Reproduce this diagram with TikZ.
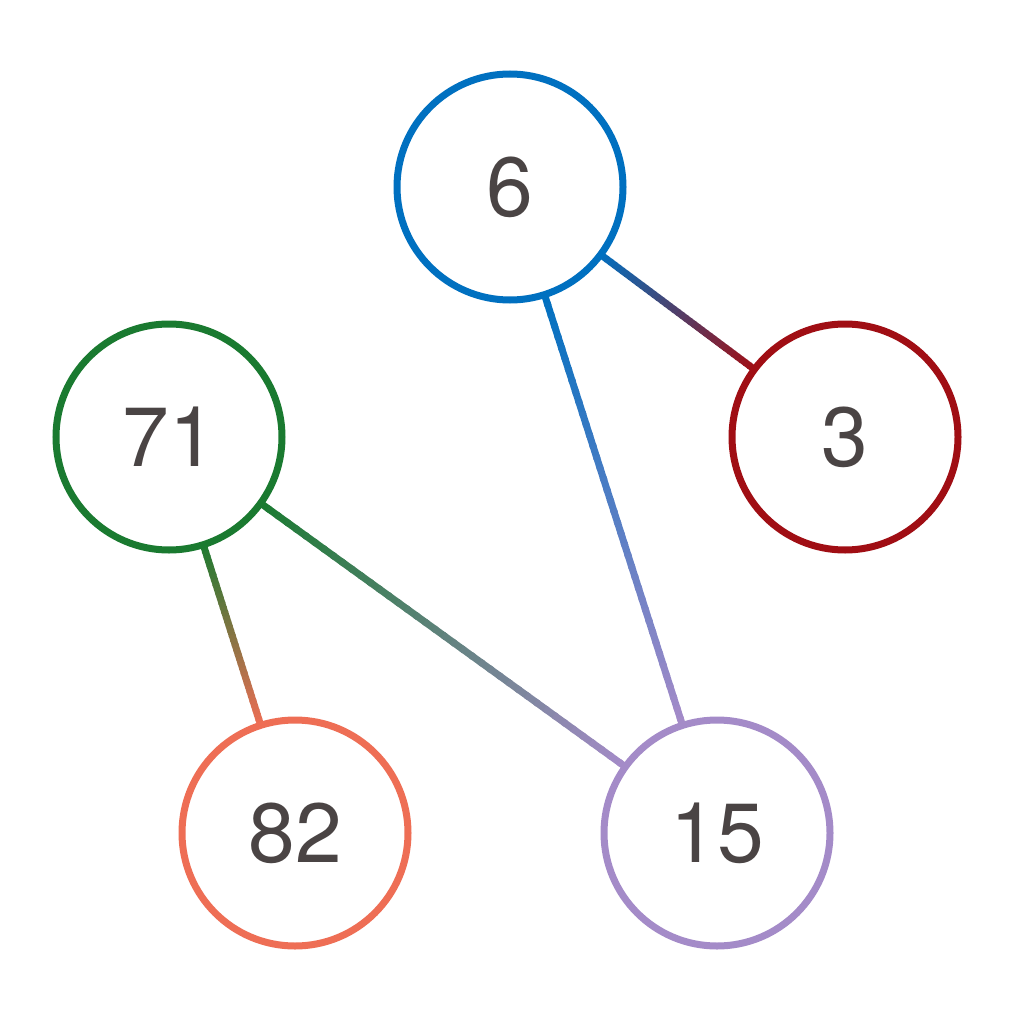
\documentclass[tikz,border=0pt]{standalone}
\usepackage{fontspec}
\setmainfont{TeX Gyre Heros}
\usetikzlibrary{calc}
\definecolor{cblue}{HTML}{0070C0}
\definecolor{cred}{HTML}{A00E14}
\definecolor{cgreen}{HTML}{1A7A30}
\definecolor{corange}{HTML}{EE6E55}
\definecolor{cpurple}{HTML}{A48BC8}
\definecolor{ctext}{HTML}{4A4444}
\tikzset{vert/.style={circle,draw=#1,line width=7pt,fill=white,minimum size=226pt,inner sep=0pt,text=ctext,font=\fontsize{84}{84}\selectfont}}
\newcommand\gedge[4]{%
  \coordinate (s) at ($(#1)!110pt!(#2)$);
  \coordinate (e) at ($(#2)!110pt!(#1)$);
  \foreach \i in {0,...,39}{%
    \pgfmathtruncatemacro\pc{100-\i*100/39}%
    \pgfmathsetmacro\ta{\i/40}%
    \pgfmathsetmacro\tb{(\i+1.3)/40}%
    \draw[line width=7pt,color=#3!\pc!#4] ($(s)!\ta!(e)$) -- ($(s)!min(\tb,1)!(e)$);
  }}
\begin{document}
\begin{tikzpicture}[x=1pt,y=-1pt]
\useasboundingbox (0,0) rectangle (1024,1024);
\coordinate (p6) at (510,187);
\coordinate (p3) at (845,437);
\coordinate (p71) at (169,437);
\coordinate (p82) at (295,833);
\coordinate (p15) at (717,833);
\gedge{p6}{p3}{cblue}{cred}
\gedge{p6}{p15}{cblue}{cpurple}
\gedge{p71}{p15}{cgreen}{cpurple}
\gedge{p71}{p82}{cgreen}{corange}
\node[vert=cblue] (n6) at (p6) {6};
\node[vert=cred] (n3) at (p3) {3};
\node[vert=cgreen] (n71) at (p71) {71};
\node[vert=corange] (n82) at (p82) {82};
\node[vert=cpurple] (n15) at (p15) {15};
\end{tikzpicture}
\end{document}
